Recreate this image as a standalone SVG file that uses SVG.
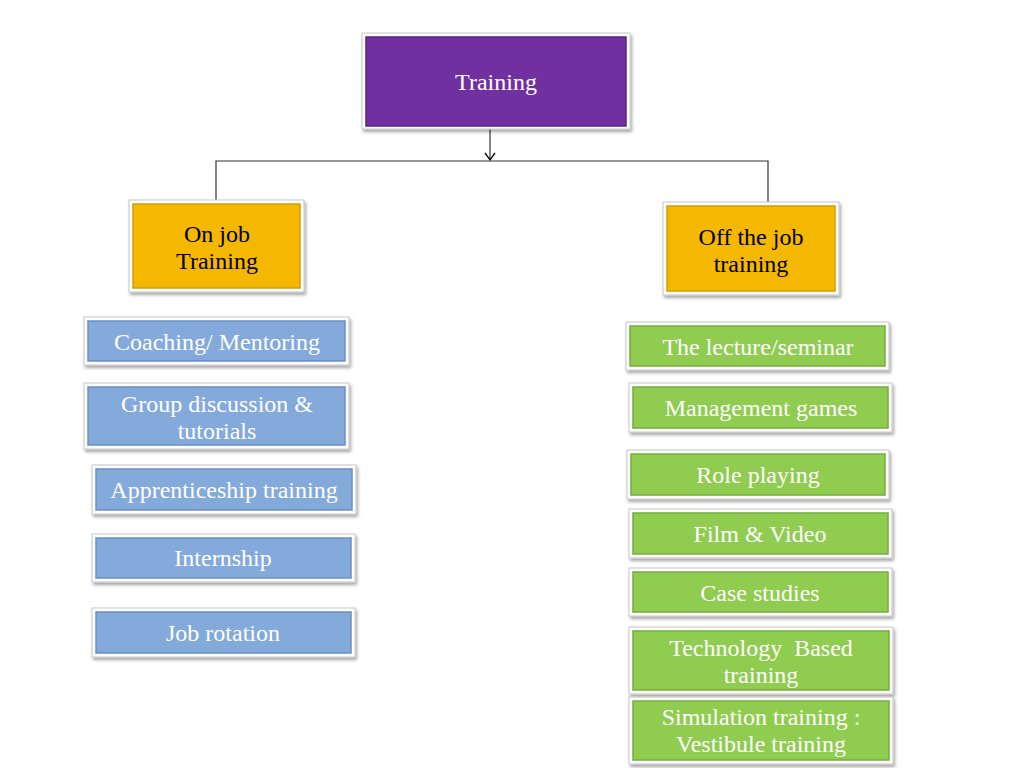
<svg xmlns="http://www.w3.org/2000/svg" width="1024" height="768" viewBox="0 0 1024 768">
<defs>
<filter id="sh" x="-10%" y="-20%" width="125%" height="150%">
<feDropShadow dx="1.5" dy="2.5" stdDeviation="1.8" flood-color="#000" flood-opacity="0.35"/>
</filter>
<marker id="arr" markerWidth="12" markerHeight="12" refX="10" refY="6" orient="auto" markerUnits="userSpaceOnUse" viewBox="0 0 12 12">
<path d="M3,1 L10,6 L3,11" fill="none" stroke="#000" stroke-width="1.3"/>
</marker>
</defs>
<style>
.o{fill:#fff;stroke:#c6c6c6;stroke-width:1;filter:url(#sh)}
.p{fill:#7030A0;stroke:#5a2283;stroke-width:1.5}
.y{fill:#F5B800;stroke:#d49e00;stroke-width:1.5}
.b{fill:#84AADC;stroke:#6a8fc0;stroke-width:1.5}
.g{fill:#8FCC50;stroke:#74ad3b;stroke-width:1.5}
text{font-family:"Liberation Serif","DejaVu Serif",serif;font-size:24px;text-anchor:middle}
.w{fill:#fff}
.k{fill:#000}
.c{fill:none;stroke:#333;stroke-width:1.2}
</style>
<rect width="1024" height="768" fill="#fff"/>
<g id="connectors">
<path class="c" d="M216,200 V161 H768 V202"/>
<line class="c" x1="490" y1="129" x2="490" y2="160" marker-end="url(#arr)"/>
</g>
<g id="n-training">
<rect class="o" x="362" y="33" width="268" height="96"/>
<rect class="p" x="366" y="37" width="260" height="89"/>
<text class="w" x="496" y="90">Training</text>
</g>
<g id="n-onjob">
<rect class="o" x="129" y="200" width="175" height="92"/>
<rect class="y" x="133" y="204" width="167" height="84"/>
<text class="k" x="217" y="242">On job</text>
<text class="k" x="217" y="269">Training</text>
</g>
<g id="n-offjob">
<rect class="o" x="663" y="202" width="176" height="93"/>
<rect class="y" x="667" y="206" width="168" height="85"/>
<text class="k" x="751" y="245">Off the job</text>
<text class="k" x="751" y="272">training</text>
</g>
<g id="n-coaching">
<rect class="o" x="84" y="317" width="265" height="48"/>
<rect class="b" x="88" y="321" width="257" height="40"/>
<text class="w" x="217" y="350">Coaching/ Mentoring</text>
</g>
<g id="n-group">
<rect class="o" x="84" y="383" width="265" height="66"/>
<rect class="b" x="88" y="387" width="257" height="58"/>
<text class="w" x="217" y="412">Group discussion &amp;</text>
<text class="w" x="217" y="439">tutorials</text>
</g>
<g id="n-apprentice">
<rect class="o" x="92" y="465" width="264" height="49"/>
<rect class="b" x="96" y="469" width="256" height="41"/>
<text class="w" x="224" y="498">Apprenticeship training</text>
</g>
<g id="n-internship">
<rect class="o" x="92" y="534" width="263" height="48"/>
<rect class="b" x="96" y="538" width="255" height="40"/>
<text class="w" x="223" y="566">Internship</text>
</g>
<g id="n-jobrotation">
<rect class="o" x="92" y="608" width="263" height="49"/>
<rect class="b" x="96" y="612" width="255" height="41"/>
<text class="w" x="223" y="641">Job rotation</text>
</g>
<g id="n-lecture">
<rect class="o" x="626" y="322" width="263" height="48"/>
<rect class="g" x="630" y="326" width="255" height="40"/>
<text class="w" x="758" y="355">The lecture/seminar</text>
</g>
<g id="n-management">
<rect class="o" x="629" y="383" width="263" height="49"/>
<rect class="g" x="633" y="387" width="255" height="41"/>
<text class="w" x="761" y="416">Management games</text>
</g>
<g id="n-role">
<rect class="o" x="627" y="450" width="262" height="49"/>
<rect class="g" x="631" y="454" width="254" height="41"/>
<text class="w" x="758" y="483">Role playing</text>
</g>
<g id="n-film">
<rect class="o" x="629" y="509" width="263" height="49"/>
<rect class="g" x="633" y="513" width="255" height="41"/>
<text class="w" x="760" y="542">Film &amp; Video</text>
</g>
<g id="n-case">
<rect class="o" x="629" y="568" width="263" height="48"/>
<rect class="g" x="633" y="572" width="255" height="40"/>
<text class="w" x="760" y="601">Case studies</text>
</g>
<g id="n-tech">
<rect class="o" x="629" y="627" width="264" height="67"/>
<rect class="g" x="633" y="631" width="256" height="59"/>
<text class="w" x="761" y="656" xml:space="preserve">Technology  Based</text>
<text class="w" x="761" y="683">training</text>
</g>
<g id="n-simulation">
<rect class="o" x="629" y="697" width="264" height="67"/>
<rect class="g" x="633" y="701" width="256" height="59"/>
<text class="w" x="761" y="725">Simulation training :</text>
<text class="w" x="761" y="752">Vestibule training</text>
</g>
</svg>
